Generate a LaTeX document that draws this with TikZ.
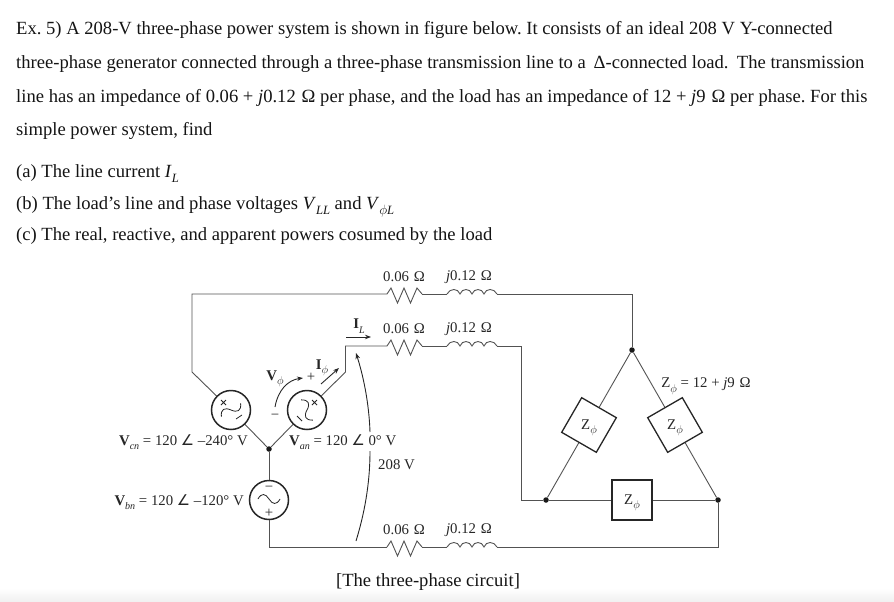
\documentclass[tikz,border=0pt]{standalone}
\usepackage{fontspec}
\setmainfont{Liberation Serif}
\newfontfamily\symfam{DejaVu Sans}
\usetikzlibrary{arrows.meta}
\frenchspacing
\newcommand{\lowsub}[1]{\raisebox{-0.3em}{\scalebox{0.68}{#1}}}
\newcommand{\myphi}{\scalebox{1.15}{$\phi$}}
\newcommand{\ohm}{\hspace{0.32em}Ω}
\newcommand{\angsym}{{\symfam ∠}}
\newcommand{\zigzag}[1]{%
  (387,#1) -- (391,{#1-6}) -- (397.5,{#1+9}) -- (404,{#1-6}) -- (410.5,{#1+9}) -- (417,{#1-6}) -- (422,#1)}
\newcommand{\coil}[1]{%
  (447,#1) .. controls (450,{#1-6}) and (458,{#1-6}) .. (460,#1)
  .. controls (462,{#1-6}) and (470,{#1-6}) .. (472,#1)
  .. controls (474,{#1-6}) and (482,{#1-6}) .. (484,#1)
  .. controls (486,{#1-6}) and (494,{#1-6}) .. (497,#1)}
\newcommand{\wave}{(-13,0) .. controls (-9,-9) and (-4,-8) .. (0,0) .. controls (4,8) and (9,9) .. (13,0)}
\tikzset{
  x=1pt,y=-1pt,
  wire/.style={draw=black!68,line width=0.9pt,line join=miter},
  gensym/.style={draw=black!85,line width=0.8pt},
  gen/.style={circle,draw=black!85,line width=1.5pt,fill=white,minimum size=39pt,inner sep=0pt},
  dotn/.style={circle,fill=black!90,inner sep=0pt,minimum size=5.5pt},
  zbox/.style={rectangle,draw=black!85,line width=1.3pt,fill=white,minimum size=40pt,inner sep=0pt},
  body/.style={anchor=base west,inner sep=0pt,font=\fontsize{18.6}{22}\selectfont,text=black!92},
  lab/.style={inner sep=0pt,font=\fontsize{14.8}{18}\selectfont,text=black!85},
  arr/.style={draw=black!85,line width=0.9pt,-{Stealth[length=6pt,width=4.5pt]}},
}
\begin{document}
\begin{tikzpicture}
\useasboundingbox (0,0) rectangle (894,602);
\fill[top color=white,bottom color=black!6,draw=none] (0,588) rectangle (894,602);
% body text
\node[body] (t1) at (16,35) {Ex. 5) A 208-V three-phase power system is shown in figure below. It consists of an ideal 208 V Y-connected};
\node[body] (t2) at (16,68) {three-phase generator connected through a three-phase transmission line to a \,Δ-connected load. \hspace{0.2em}The transmission};
\node[body] (t3) at (16,102) {line has an impedance of 0.06 + \textit{j}0.12\ohm\ per phase, and the load has an impedance of 12 + \textit{j}9\ohm\ per phase. For this};
\node[body] (t4) at (16,135) {simple power system, find};
\node[body] (t5) at (16,177) {(a) The line current \textit{I}\lowsub{\textit{L}}};
\node[body] (t6) at (16,209) {(b) The load's line and phase voltages \textit{V}\lowsub{\textit{LL}} and \textit{V}\lowsub{\myphi\textit{L}}};
\node[body] (t7) at (16,240) {(c) The real, reactive, and apparent powers cosumed by the load};
% generators
\node[gen] (gc) at (231,410) {};
\node[gen] (ga) at (307,410) {};
\node[gen] (gb) at (269,500) {};
\node[dotn] (n) at (269,449) {};
% load
\node[dotn] (ta) at (632,350) {};
\node[dotn] (tl) at (546,500) {};
\node[dotn] (tr) at (718,500) {};
\node[zbox,rotate=-30] (zl) at (589,425) {};
\node[zbox,rotate=30] (zr) at (675,425) {};
\node[zbox] (zb) at (632,500) {};
\node[lab] (zlt) at (589,428) {Z\lowsub{\myphi}};
\node[lab] (zrt) at (675,428) {Z\lowsub{\myphi}};
\node[lab] (zbt) at (632,503) {Z\lowsub{\myphi}};
% corners
\coordinate (c1) at (192,372);
\coordinate (c2) at (192,294);
\coordinate (r1a) at (387,294);
\coordinate (r1b) at (422,294);
\coordinate (l1a) at (447,294);
\coordinate (l1b) at (497,294);
\coordinate (c3) at (632,294);
\coordinate (c4) at (345.5,372);
\coordinate (c5) at (345.5,346);
\coordinate (r2a) at (387,346);
\coordinate (r2b) at (422,346);
\coordinate (l2a) at (447,346);
\coordinate (l2b) at (497,346);
\coordinate (c6) at (521,346);
\coordinate (c7) at (521,500);
\coordinate (c8) at (269,547);
\coordinate (r3a) at (387,547);
\coordinate (r3b) at (422,547);
\coordinate (l3a) at (447,547);
\coordinate (l3b) at (497,547);
\coordinate (c9) at (718,547);
% wires
\draw[wire] (gc) -- (c1) -- (c2) -- (r1a);
\draw[wire] \zigzag{294};
\draw[wire] (r1b) -- (l1a);
\draw[wire] \coil{294};
\draw[wire] (l1b) -- (c3) -- (ta);
\draw[wire] (ga) -- (c4) -- (c5) -- (r2a);
\draw[wire] \zigzag{346};
\draw[wire] (r2b) -- (l2a);
\draw[wire] \coil{346};
\draw[wire] (l2b) -- (c6) -- (c7) -- (tl);
\draw[wire] (gb) -- (c8) -- (r3a);
\draw[wire] \zigzag{547};
\draw[wire] (r3b) -- (l3a);
\draw[wire] \coil{547};
\draw[wire] (l3b) -- (c9) -- (tr);
\draw[wire] (n) -- (gc);
\draw[wire] (n) -- (ga);
\draw[wire] (n) -- (gb);
\draw[wire] (ta) -- (zl);
\draw[wire] (zl) -- (tl);
\draw[wire] (ta) -- (zr);
\draw[wire] (zr) -- (tr);
\draw[wire] (tl) -- (zb);
\draw[wire] (zb) -- (tr);
% generator symbols
\draw[gensym,shift={(231,410)},rotate=35,xscale=0.9,yscale=0.75] \wave;
\draw[gensym] (236,419) -- (242,415);
\draw[gensym] (221,400) -- (226,405) (226,400) -- (221,405);
\draw[gensym,shift={(307,410)},rotate=-60,xscale=0.9,yscale=0.75] \wave;
\draw[gensym] (297,416) -- (302,421);
\draw[gensym] (312,400) -- (317,405) (317,400) -- (312,405);
\draw[gensym,shift={(269,499)},xscale=0.85,yscale=0.7] \wave;
\node[lab] (bm) at (269,489) {−};
\node[lab] (bp) at (269,513) {+};
% phase annotations
\coordinate (va) at (275,407);
\coordinate (vb) at (303,378);
\draw[arr] (va) .. controls (278,390) and (288,380) .. (vb);
\coordinate (ia) at (321,384);
\coordinate (ib) at (339,368);
\draw[arr] (ia) -- (ib);
\coordinate (ila) at (346,337);
\coordinate (ilb) at (371,337);
\draw[arr] (ila) -- (ilb);
\coordinate (aa) at (370,432);
\coordinate (ab) at (356,353);
\coordinate (ac) at (370,451);
\coordinate (ad) at (356,541);
\draw[arr] (aa) .. controls (369,402) and (363,375) .. (ab);
\draw[draw=black!85,line width=0.9pt] (ac) .. controls (370,485) and (364,515) .. (ad);
\node[lab] (lv) at (275,379) {\textbf{V}\lowsub{\myphi}};
\node[lab] (lp) at (311,377) {+};
\node[lab] (lm) at (275,417) {−};
\node[lab] (li) at (322,368) {\textbf{I}\lowsub{\myphi}};
\node[lab] (lil) at (359,326) {\textbf{I}\lowsub{\textit{L}}};
\node[lab,anchor=base east] (lcn) at (248,445) {\textbf{V}\lowsub{\textit{cn}} = 120 \angsym{} –240° V};
\node[lab,anchor=base west] (lan) at (289,445) {\textbf{V}\lowsub{\textit{an}} = 120 \angsym{} 0° V};
\node[lab,anchor=base east] (lbn) at (244,505) {\textbf{V}\lowsub{\textit{bn}} = 120 \angsym{} –120° V};
\node[lab,anchor=base west] (l208) at (378,469) {208 V};
\node[lab] (z1r) at (404,277) {0.06\ohm};
\node[lab] (z1l) at (469,277) {\textit{j}0.12\ohm};
\node[lab] (z2r) at (404,329) {0.06\ohm};
\node[lab] (z2l) at (469,329) {\textit{j}0.12\ohm};
\node[lab] (z3r) at (404,530) {0.06\ohm};
\node[lab] (z3l) at (469,530) {\textit{j}0.12\ohm};
\node[lab] (zval) at (706,386) {Z\lowsub{\myphi} = 12 + \textit{j}9\ohm};
\node[inner sep=0pt,font=\fontsize{18.6}{22}\selectfont,text=black!92] (cap) at (428,582) {[The three-phase circuit]};
\end{tikzpicture}
\end{document}
